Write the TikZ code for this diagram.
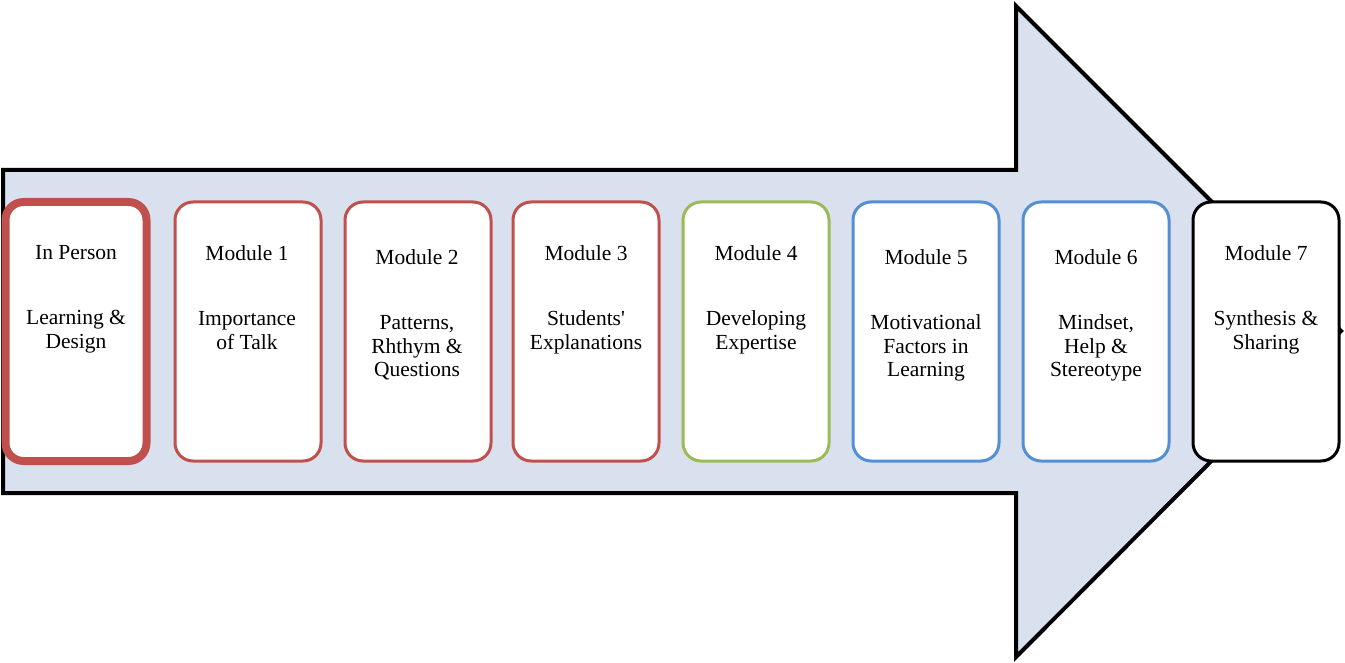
\documentclass[tikz,border=0pt]{standalone}
\usepackage{fontspec}
\setmainfont{Liberation Serif}
\begin{document}
\begin{tikzpicture}[x=1pt,y=-1pt,
  box/.style={draw,fill=white,rounded corners=18pt,line width=3pt},
  lbl/.style={align=center,font=\fontsize{21.5}{23.5}\selectfont,anchor=north,inner sep=0pt}]
\definecolor{rd}{HTML}{C0504D}\definecolor{gr}{HTML}{9BBB59}
\definecolor{bl}{HTML}{558ED5}\definecolor{af}{HTML}{DAE1EE}
\useasboundingbox (0,0) rectangle (1345,663);
\draw[line width=4pt,fill=af,line join=miter] (3,170) -- (1016,170) -- (1016,6) -- (1341,331) -- (1016,657) -- (1016,493) -- (3,493) -- cycle;
\foreach \x/\c/\w [count=\i] in {3/rd/8,175/rd/3,345/rd/3,513/rd/3,683/gr/3,853/bl/3,1023/bl/3,1193/black/3}
  \draw[box,draw=\c,line width=\w pt] (\x+\w/2-1.5,202) rectangle (\x+146-\w/2+1.5,461);
\node[lbl] (t0) at (76,245) {In Person\\[1.95em]Learning \&\\Design};
\node[lbl] (t1) at (247,245) {Module 1\\[1.95em]Importance\\of Talk};
\node[lbl] (t2) at (417,249) {Module 2\\[1.95em]Patterns,\\Rhthym \&\\Questions};
\node[lbl] (t3) at (586,245) {Module 3\\[1.95em]Students\textquotesingle\\Explanations};
\node[lbl] (t4) at (756,245) {Module 4\\[1.95em]Developing\\Expertise};
\node[lbl] (t5) at (926,249) {Module 5\\[1.95em]Motivational\\Factors in\\Learning};
\node[lbl] (t6) at (1096,249) {Module 6\\[1.95em]Mindset,\\Help \&\\Stereotype};
\node[lbl] (t7) at (1266,245) {Module 7\\[1.95em]Synthesis \&\\Sharing};
\end{tikzpicture}
\end{document}
